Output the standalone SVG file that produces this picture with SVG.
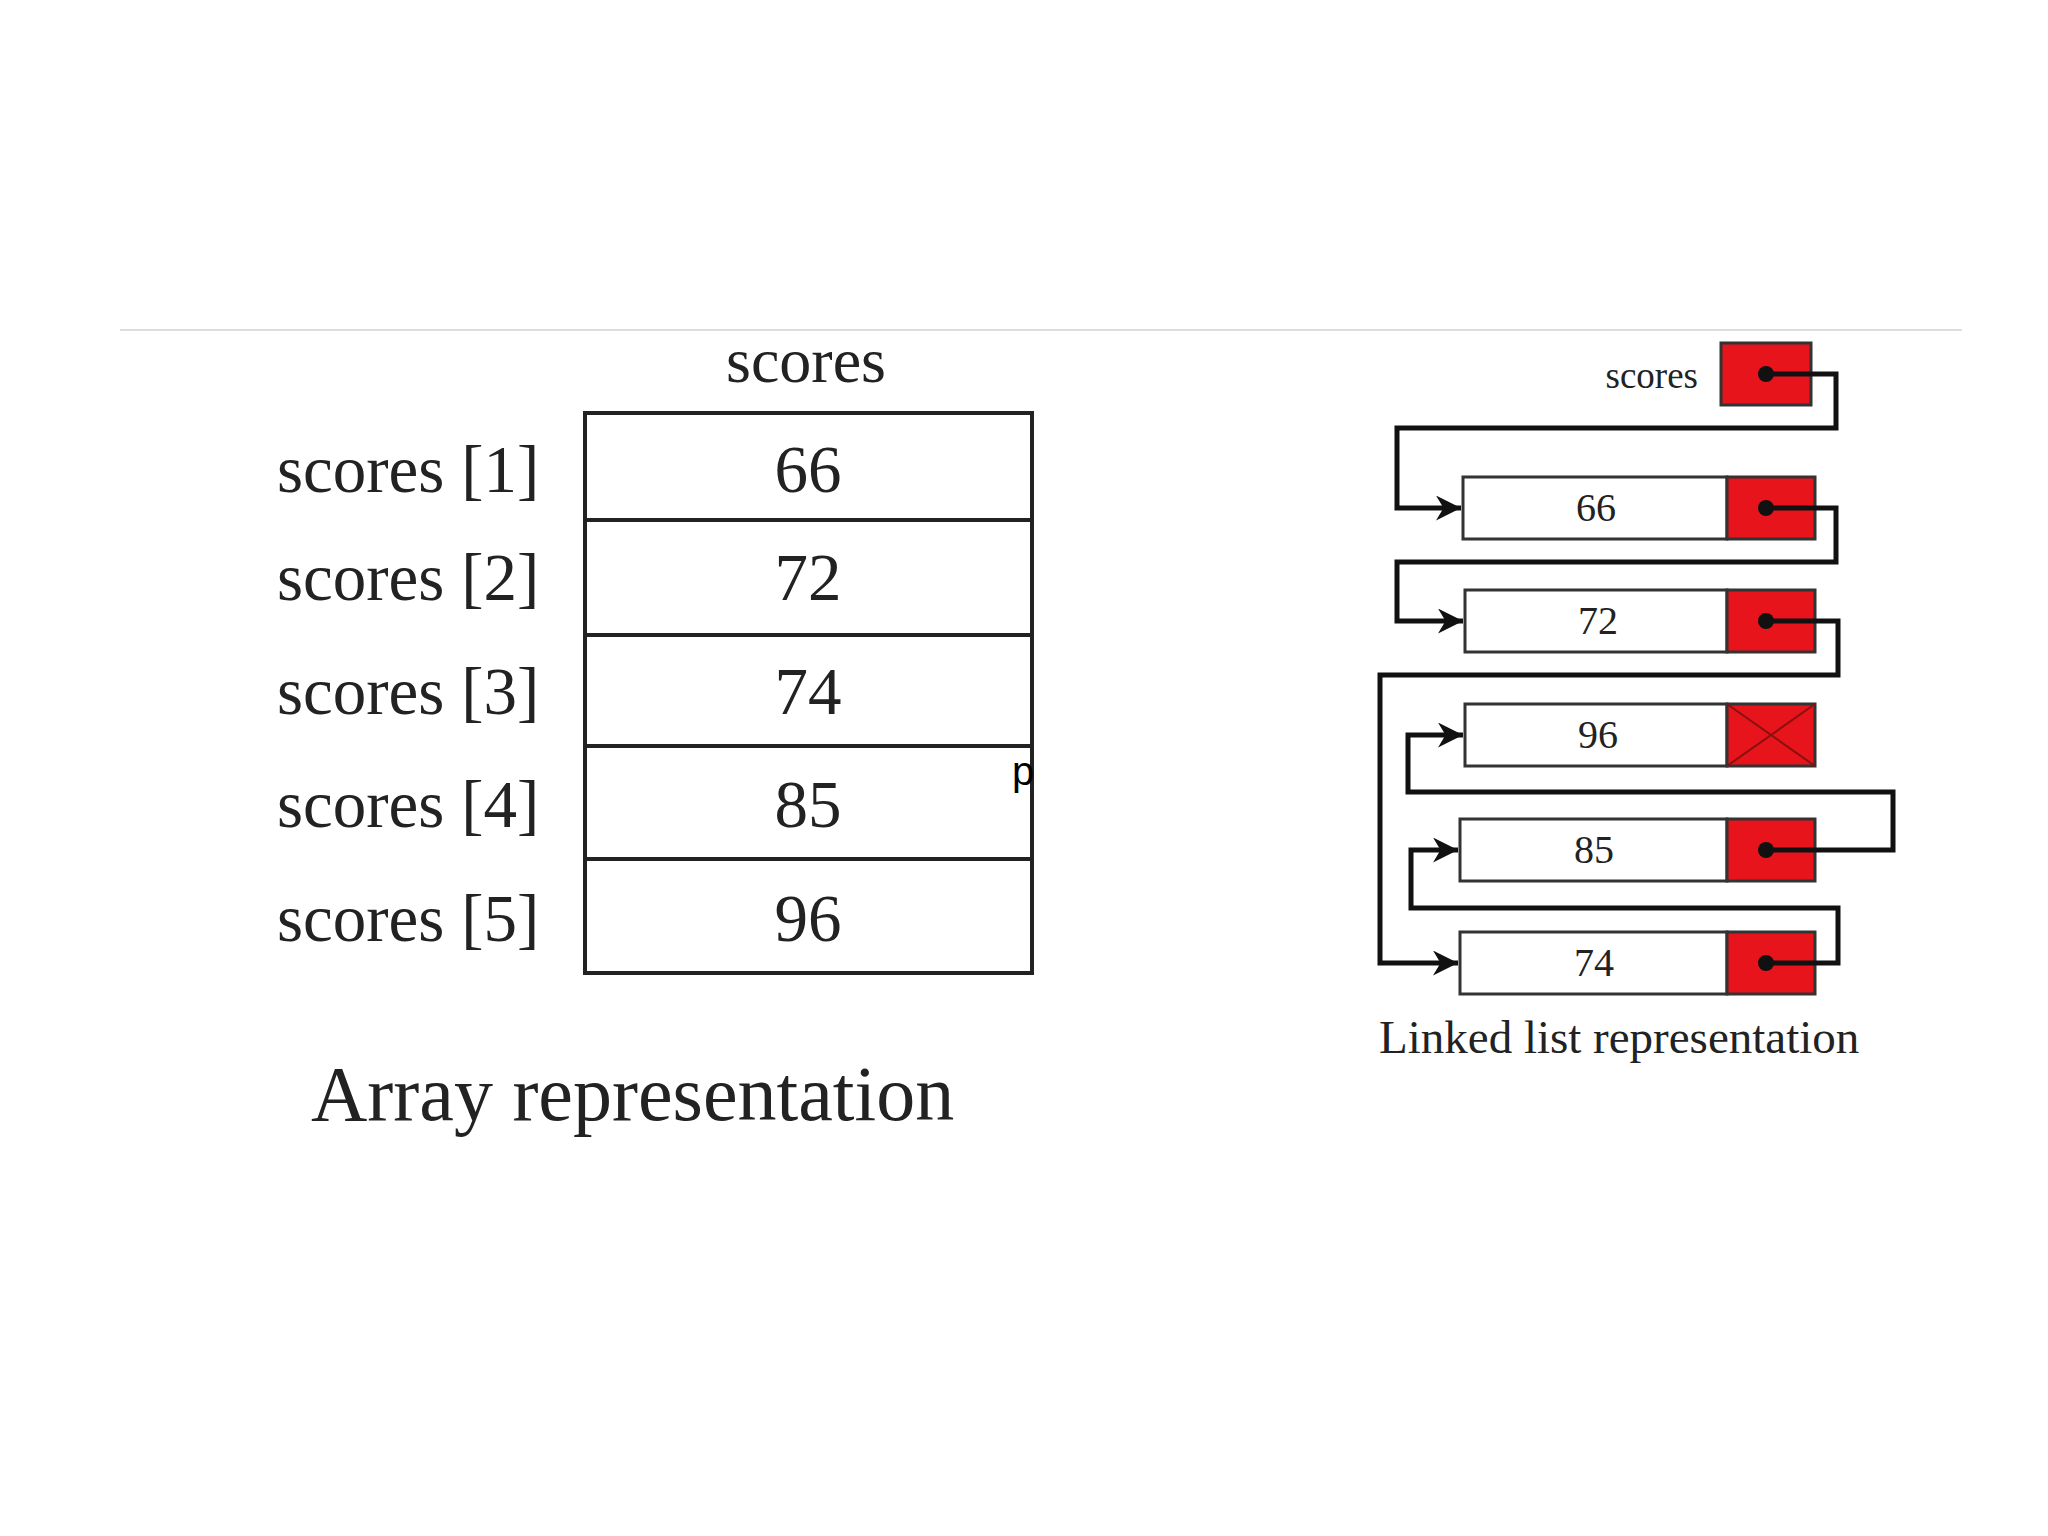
<svg xmlns="http://www.w3.org/2000/svg" width="2048" height="1536" viewBox="0 0 2048 1536">
<style>
.t{font-family:"Liberation Serif","Times New Roman",serif;fill:#222}
.cell{fill:#fff;stroke:#222;stroke-width:4}
.w{fill:#fff;stroke:#333;stroke-width:3}
.r{fill:#e8141b;stroke:#333;stroke-width:3}
.c{fill:none;stroke:#111;stroke-width:5;stroke-linejoin:miter}
</style>
<defs>
<marker id="ah" viewBox="0 0 10 10" refX="10" refY="5" markerWidth="5" markerHeight="5" orient="auto" markerUnits="strokeWidth">
<path d="M0,0 L10,5 L0,10 L3,5 z" fill="#111"/>
</marker>
</defs>
<rect width="2048" height="1536" fill="#fff"/>
<line x1="120" y1="330" x2="1962" y2="330" stroke="#ddd" stroke-width="2"/>
<g id="array">
<text class="t" x="806" y="382" font-size="64" text-anchor="middle">scores</text>
<rect class="cell" x="585" y="413" width="447" height="107"/>
<rect class="cell" x="585" y="520" width="447" height="115"/>
<rect class="cell" x="585" y="635" width="447" height="111"/>
<rect class="cell" x="585" y="746" width="447" height="113"/>
<rect class="cell" x="585" y="859" width="447" height="114"/>
<g class="t" font-size="67">
<text x="808" y="492" text-anchor="middle">66</text>
<text x="808" y="600" text-anchor="middle">72</text>
<text x="808" y="714" text-anchor="middle">74</text>
<text x="808" y="827" text-anchor="middle">85</text>
<text x="808" y="941" text-anchor="middle">96</text>
<text x="277" y="492">scores [1]</text>
<text x="277" y="600">scores [2]</text>
<text x="277" y="714">scores [3]</text>
<text x="277" y="827">scores [4]</text>
<text x="277" y="941">scores [5]</text>
</g>
<text x="1012" y="785" font-family="Liberation Sans,Arial,sans-serif" font-size="40" fill="#000">p</text>
<text class="t" x="311" y="1120" font-size="78">Array representation</text>
</g>
<g id="head">
<text class="t" x="1698" y="388" font-size="37" text-anchor="end" fill="#444">scores</text>
<rect class="r" x="1721" y="343" width="90" height="62"/>
<circle cx="1766" cy="374" r="8" fill="#111"/>
</g>
<g id="n66"><rect class="w" x="1463" y="477" width="264" height="62"/><rect class="r" x="1727" y="477" width="88" height="62"/><circle cx="1766" cy="508" r="8" fill="#111"/><text class="t" x="1596" y="521" font-size="40" text-anchor="middle" fill="#444">66</text></g>
<g id="n72"><rect class="w" x="1465" y="590" width="262" height="62"/><rect class="r" x="1727" y="590" width="88" height="62"/><circle cx="1766" cy="621" r="8" fill="#111"/><text class="t" x="1598" y="634" font-size="40" text-anchor="middle" fill="#444">72</text></g>
<g id="n96"><rect class="w" x="1465" y="704" width="262" height="62"/><rect class="r" x="1727" y="704" width="88" height="62"/><path d="M1727,704 L1815,766 M1815,704 L1727,766" stroke="#8a1010" stroke-width="2"/><text class="t" x="1598" y="748" font-size="40" text-anchor="middle" fill="#444">96</text></g>
<g id="n85"><rect class="w" x="1460" y="819" width="267" height="62"/><rect class="r" x="1727" y="819" width="88" height="62"/><circle cx="1766" cy="850" r="8" fill="#111"/><text class="t" x="1594" y="863" font-size="40" text-anchor="middle" fill="#444">85</text></g>
<g id="n74"><rect class="w" x="1460" y="932" width="267" height="62"/><rect class="r" x="1727" y="932" width="88" height="62"/><circle cx="1766" cy="963" r="8" fill="#111"/><text class="t" x="1594" y="976" font-size="40" text-anchor="middle" fill="#444">74</text></g>
<g id="connectors">
<path class="c" d="M1766,374 H1836 V428 H1397 V508 H1461" marker-end="url(#ah)"/>
<path class="c" d="M1766,508 H1836 V562 H1397 V621 H1463" marker-end="url(#ah)"/>
<path class="c" d="M1766,621 H1838 V675 H1380 V963 H1458" marker-end="url(#ah)"/>
<path class="c" d="M1766,963 H1838 V908 H1411 V850 H1458" marker-end="url(#ah)"/>
<path class="c" d="M1766,850 H1893 V792 H1408 V735 H1463" marker-end="url(#ah)"/>
</g>
<text class="t" x="1379" y="1053" font-size="47" fill="#333">Linked list representation</text>
</svg>
